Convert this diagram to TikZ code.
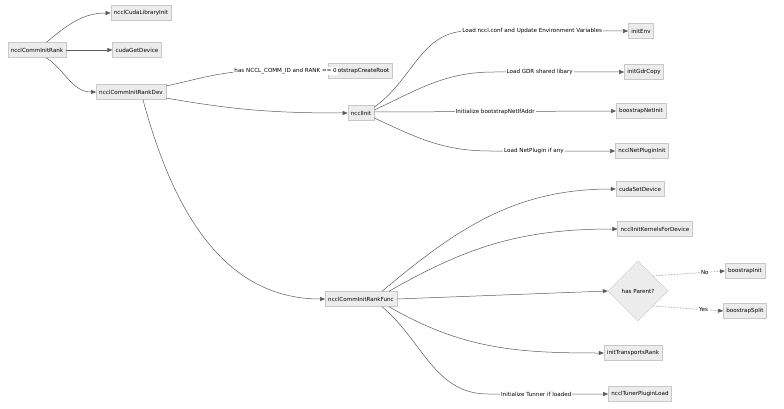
\documentclass[tikz,border=0pt]{standalone}
\usepackage{fontspec}
\setmainfont{DejaVu Sans}
\usetikzlibrary{shapes.geometric,arrows.meta,positioning,calc}
\definecolor{boxfill}{RGB}{236,236,236}
\definecolor{boxline}{RGB}{200,200,200}
\definecolor{edgegray}{RGB}{90,90,90}

\begin{document}
\begin{tikzpicture}[
    x=1pt, y=-1pt,
    box/.style={rectangle, draw=boxline, fill=boxfill, minimum height=15pt, inner xsep=3pt, font=\fontsize{5.6}{7}\selectfont},
    decide/.style={diamond, draw=boxline, fill=boxfill, minimum width=60pt, minimum height=60pt, inner sep=0pt, font=\fontsize{5.6}{7}\selectfont},
    arrow/.style={-{Triangle[length=5pt,width=4pt]}, draw=edgegray, line width=0.5pt},
    maybe/.style={arrow, densely dotted},
    lbl/.style={fill=white, inner sep=1pt, font=\fontsize{5.6}{7}\selectfont}
]
    \useasboundingbox (0,0) rectangle (784,409);

    % Entry
    \node[box] (rank) at (37,50) {ncclCommInitRank};
    \node[box] (cudalib) at (141,13) {ncclCudaLibraryInit};
    \node[box] (getdev) at (137,50) {cudaGetDevice};
    \node[box] (rankdev) at (131,92) {ncclCommInitRankDev};

    % Init stage
    \node[box] (root) at (360,71) {bootstrapCreateRoot};
    \node[box] (init) at (361,113) {ncclInit};
    \node[box] (env) at (641,31) {initEnv};
    \node[box] (gdr) at (644,72) {initGdrCopy};
    \node[box] (netinit) at (641,111) {boostrapNetInit};
    \node[box] (plugin) at (642,151) {ncclNetPluginInit};

    % Rank func stage
    \node[box] (func) at (361,299) {ncclCommInitRankFunc};
    \node[box] (setdev) at (640,189) {cudaSetDevice};
    \node[box] (kernels) at (655,229) {ncclInitKernelsForDevice};
    \node[decide] (parent) at (638,291) {has Parent?};
    \node[box] (binit) at (745,271) {boostrapInit};
    \node[box] (bsplit) at (745,311) {boostrapSplit};
    \node[box] (transports) at (633,353) {initTransportsRank};
    \node[box] (tuner) at (640,394) {ncclTunerPluginLoad};

    % Arrows
    \draw[arrow] (rank.north east) ++(-20,0) to[out=40,in=180] (cudalib.west);
    \draw[arrow] (rank) -- (getdev);
    \draw[arrow] (rank.south east) ++(-20,0) to[out=-35,in=180] (rankdev.west);
    \draw[arrow] (rankdev.east) ++(0,-6) to[out=12,in=180] ($(root.west)+(-70,0)$) -- node[lbl, pos=0.4] {has NCCL\_COMM\_ID and RANK == 0} (root.west);
    \draw[arrow] (rankdev.east) ++(0,6) to[out=-10,in=180] (init.west);
    \draw[arrow] (rankdev.south) ++(12,0) to[out=-75,in=180] (func.west);

    \draw[arrow] (init.east) ++(0,-6) to[out=35,in=180] ($(env.west)+(-160,0)$) -- node[lbl, pos=0.4] {Load nccl.conf and Update Environment Variables} (env.west);
    \draw[arrow] (init.east) ++(0,-3) to[out=25,in=180] ($(gdr.west)+(-130,0)$) -- node[lbl, pos=0.35] {Load GDR shared libary} (gdr.west);
    \draw[arrow] (init.east) ++(0,-1) -- node[lbl, pos=0.5] {Initialize bootstrapNetIfAddr} (netinit.west);
    \draw[arrow] (init.east) ++(0,5) to[out=-25,in=180] ($(plugin.west)+(-125,0)$) -- node[lbl, pos=0.35] {Load NetPlugin if any} (plugin.west);

    \draw[arrow] (func.north east) ++(-15,0) to[out=40,in=180] (setdev.west);
    \draw[arrow] (func.north east) ++(-8,0) to[out=30,in=180] (kernels.west);
    \draw[arrow] (func.east) -- (parent.west);
    \draw[arrow] (func.south east) ++(-8,0) to[out=-30,in=180] (transports.west);
    \draw[arrow] (func.south east) ++(-15,0) to[out=-40,in=180] ($(tuner.west)+(-120,0)$) -- node[lbl, pos=0.4] {Initialize Tunner if loaded} (tuner.west);

    \draw[maybe] (parent.north east) -- node[lbl, pos=0.72] {No} (binit.west);
    \draw[maybe] (parent.south east) -- node[lbl, pos=0.72] {Yes} (bsplit.west);
\end{tikzpicture}
\end{document}
